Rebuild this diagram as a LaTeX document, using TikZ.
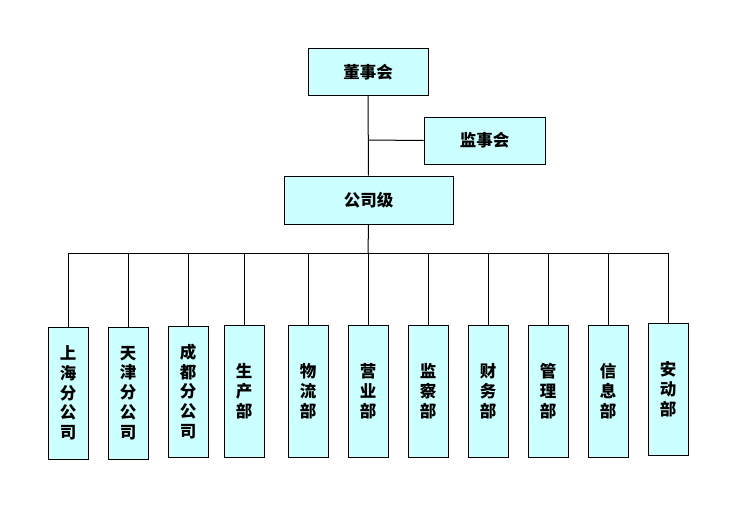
\documentclass[tikz,border=0pt]{standalone}
\usepackage{fontspec}
\newfontfamily\cjk{Noto Sans CJK SC}
\usetikzlibrary{shadows}
\definecolor{boxfill}{HTML}{CCFFFF}
\tikzset{
  x=1pt, y=-1pt,
  orgbox/.style={draw=black, line width=1pt, fill=boxfill, inner sep=0pt,
    drop shadow={shadow xshift=1.2pt, shadow yshift=-1.2pt, fill=black!35, opacity=0.6},
    font=\cjk\bfseries\fontsize{16.5}{19.8}\selectfont, align=center},
  topbox/.style={orgbox, minimum width=120pt, minimum height=46pt},
  vbox/.style={orgbox, minimum width=40pt, minimum height=132pt},
  link/.style={draw=black, line width=1pt}
}
\begin{document}
\begin{tikzpicture}
\useasboundingbox (0,0) rectangle (739,511);
\fill[white] (0,0) rectangle (739,511);
\node[topbox] (dsh) at (368,72) {董事会};
\node[topbox, minimum width=121pt, minimum height=47pt] (jsh) at (484.5,140.5) {监事会};
\node[topbox, minimum width=169pt, minimum height=48pt] (gsj) at (368.5,200) {公司级};
\node[vbox] (b1) at (68,393) {上\\海\\分\\公\\司};
\node[vbox] (b2) at (128,393) {天\\津\\分\\公\\司};
\node[vbox, minimum height=131pt] (b3) at (188,391.5) {成\\都\\分\\公\\司};
\node[vbox] (b4) at (244,391) {生\\产\\部};
\node[vbox] (b5) at (308,391) {物\\流\\部};
\node[vbox] (b6) at (368,391) {营\\业\\部};
\node[vbox] (b7) at (428,391) {监\\察\\部};
\node[vbox] (b8) at (488,391) {财\\务\\部};
\node[vbox] (b9) at (548,391) {管\\理\\部};
\node[vbox] (b10) at (608,391) {信\\息\\部};
\node[vbox] (b11) at (668,389) {安\\动\\部};
\coordinate (bus) at (368,253);
\coordinate (jj) at (368,140);
\draw[link] (dsh.south) -- (gsj.north);
\draw[link] (jj) -- (jsh.west);
\draw[link] (gsj.south) -- (bus);
\draw[link] (b1.north |- bus) -- (b11.north |- bus);
\foreach \b in {b1,b2,b3,b4,b5,b6,b7,b8,b9,b10,b11}
  \draw[link] (\b.north) -- (\b.north |- bus);
\end{tikzpicture}
\end{document}
